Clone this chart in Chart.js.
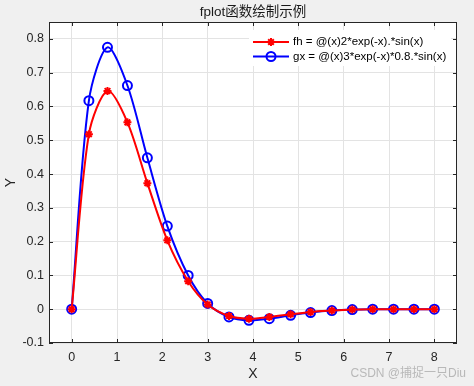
<!DOCTYPE html>
<html>
<head>
<meta charset="utf-8">
<script src="https://cdn.jsdelivr.net/npm/chart.js@4"></script>
<style>
  html, body { margin: 0; padding: 0; background: #f0f0f0; }
</style>
</head>
<body>
<canvas id="chart" width="474" height="386"></canvas>
<script>
// values (fplot marker positions)
const xVals = [0, 0.38, 0.79, 1.23, 1.67, 2.11, 2.57, 3.0, 3.47, 3.91, 4.36, 4.83, 5.27, 5.74, 6.19, 6.64, 7.1, 7.55, 8.0];
const fhVals = [0, 0.518, 0.646, 0.553, 0.373, 0.204, 0.083, 0.014, -0.02, -0.028, -0.023, -0.015, -0.008, -0.004, -0.001, 0, 0, 0, 0];
const gxVals = [0, 0.617, 0.775, 0.662, 0.448, 0.246, 0.10, 0.017, -0.023, -0.033, -0.028, -0.018, -0.01, -0.004, -0.001, 0, 0, 0, 0];
const xTicks = [0, 1, 2, 3, 4, 5, 6, 7, 8];
const yTicks = [-0.1, 0, 0.1, 0.2, 0.3, 0.4, 0.5, 0.6, 0.7, 0.8];
const seriesNames = ['fh = @(x)2*exp(-x).*sin(x)', 'gx = @(x)3*exp(-x)*0.8.*sin(x)'];
const titleText = 'fplot函数绘制示例';

const FONT = '"Liberation Sans", Arial, "Noto Sans CJK SC", sans-serif';
const AXIS_COLOR = '#262626';

function toPoints(ys) {
  return xVals.map((x, i) => ({ x: x, y: ys[i] }));
}

// background, box, inward ticks, title, labels, legend, watermark
const matlabLook = {
  id: 'matlabLook',
  beforeDraw(chart) {
    const { ctx, chartArea: a } = chart;
    ctx.save();
    ctx.fillStyle = '#f0f0f0';
    ctx.fillRect(0, 0, chart.width, chart.height);
    ctx.fillStyle = '#ffffff';
    ctx.fillRect(a.left, a.top, a.right - a.left, a.bottom - a.top);
    ctx.restore();
  },
  afterDatasetsDraw(chart) {
    const { ctx, chartArea: a, scales } = chart;
    ctx.save();

    // box
    ctx.strokeStyle = AXIS_COLOR;
    ctx.lineWidth = 1;
    ctx.strokeRect(a.left + 0.5, a.top + 0.5, a.right - a.left - 1, a.bottom - a.top - 1);

    // inward ticks
    ctx.beginPath();
    xTicks.forEach(v => {
      const px = Math.round(scales.x.getPixelForValue(v)) + 0.5;
      ctx.moveTo(px, a.bottom); ctx.lineTo(px, a.bottom - 4);
      ctx.moveTo(px, a.top); ctx.lineTo(px, a.top + 4);
    });
    yTicks.forEach(v => {
      const py = Math.round(scales.y.getPixelForValue(v)) + 0.5;
      ctx.moveTo(a.left, py); ctx.lineTo(a.left + 4, py);
      ctx.moveTo(a.right, py); ctx.lineTo(a.right - 4, py);
    });
    ctx.stroke();

    // title
    const cx = (a.left + a.right) / 2;
    ctx.fillStyle = '#1a1a1a';
    ctx.textAlign = 'center';
    ctx.textBaseline = 'middle';
    ctx.font = '13.5px ' + FONT;
    ctx.fillText(titleText, cx, 12);

    // axis labels
    ctx.fillStyle = AXIS_COLOR;
    ctx.font = '14px ' + FONT;
    ctx.fillText('X', cx, 374);
    ctx.save();
    ctx.translate(11, (a.top + a.bottom) / 2);
    ctx.rotate(-Math.PI / 2);
    ctx.fillText('Y', 0, 0);
    ctx.restore();

    // legend
    ctx.fillStyle = '#ffffff';
    ctx.fillRect(249, 30, 202, 36);
    chart.data.datasets.forEach((ds, i) => {
      const y = 42 + i * 14.5;
      ctx.strokeStyle = ds.borderColor;
      ctx.lineWidth = 2;
      ctx.beginPath();
      ctx.moveTo(253, y); ctx.lineTo(289, y);
      ctx.stroke();
      ctx.fillStyle = ds.pointBackgroundColor;
      ctx.strokeStyle = ds.borderColor;
      Chart.helpers.drawPoint(ctx, {
        pointStyle: ds.pointStyle, radius: ds.pointRadius,
        rotation: 0, borderWidth: ds.pointBorderWidth
      }, 271, y);
      ctx.fillStyle = '#000000';
      ctx.textAlign = 'left';
      ctx.font = '11.5px ' + FONT;
      ctx.fillText(ds.label, 293, y);
    });

    // watermark
    ctx.fillStyle = 'rgba(170,170,170,0.8)';
    ctx.textAlign = 'right';
    ctx.font = '12px ' + FONT;
    ctx.fillText('CSDN @捕捉一只Diu', 466, 374);

    ctx.restore();
  }
};

const tickFont = { family: FONT, size: 12.5 };

new Chart(document.getElementById('chart'), {
  type: 'line',
  data: {
    datasets: [{
      label: seriesNames[0],
      data: toPoints(fhVals),
      borderColor: '#ff0000',
      borderWidth: 2,
      pointStyle: 'star',
      pointRadius: 4,
      pointBorderWidth: 2,
      pointBorderColor: '#ff0000',
      pointBackgroundColor: '#ff0000',
      tension: 0.3,
      fill: false
    }, {
      label: seriesNames[1],
      data: toPoints(gxVals),
      borderColor: '#0000ff',
      borderWidth: 2,
      pointStyle: 'circle',
      pointRadius: 4.5,
      pointBorderWidth: 2,
      pointBorderColor: '#0000ff',
      pointBackgroundColor: 'rgba(0,0,0,0)',
      tension: 0.3,
      fill: false
    }]
  },
  options: {
    responsive: false,
    animation: false,
    layout: { padding: { top: 22, right: 17, left: 0, bottom: 0 } },
    plugins: {
      legend: { display: false },
      tooltip: { enabled: false }
    },
    scales: {
      x: {
        type: 'linear',
        min: -0.5,
        max: 8.5,
        afterBuildTicks: s => { s.ticks = xTicks.map(v => ({ value: v })); },
        afterFit: s => { s.height = 43; },
        grid: { color: '#e3e3e3', drawTicks: false },
        border: { display: false },
        ticks: {
          padding: 7, color: AXIS_COLOR, font: tickFont,
          autoSkip: false, maxRotation: 0,
          callback: v => String(v)
        }
      },
      y: {
        min: -0.1,
        max: 0.85,
        afterBuildTicks: s => { s.ticks = yTicks.map(v => ({ value: v })); },
        afterFit: s => { s.width = 49; },
        grid: { color: '#e3e3e3', drawTicks: false },
        border: { display: false },
        ticks: {
          padding: 5, color: AXIS_COLOR, font: tickFont,
          callback: v => String(Number(v.toFixed(1)))
        }
      }
    }
  },
  plugins: [matlabLook]
});
</script>
</body>
</html>
